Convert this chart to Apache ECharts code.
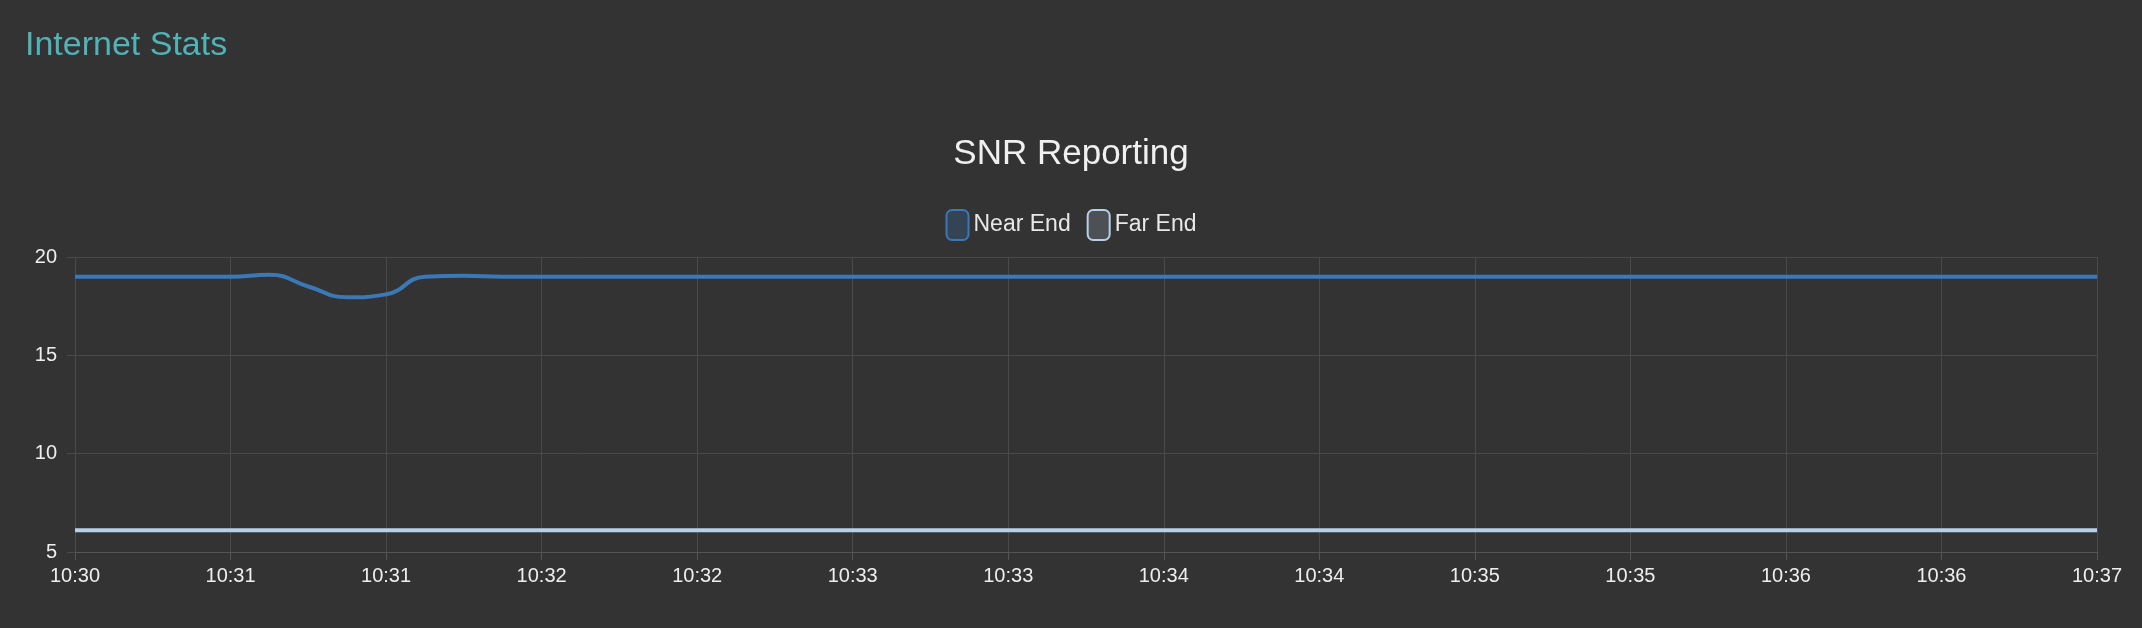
<!DOCTYPE html>
<html><head><meta charset="utf-8">
<script src="https://cdn.jsdelivr.net/npm/echarts@6/dist/echarts.min.js"></script>
<style>html,body{margin:0;background:#333;}#c{width:2142px;height:628px;}</style>
</head><body><div id="c"></div>
<script>
const tickLabels = ['10:30','10:31','10:31','10:32','10:32','10:33','10:33','10:34','10:34','10:35','10:35','10:36','10:36','10:37'];
const times = [];
for (let s = 0; s <= 13*30; s += 7.5) { times.push(s); }
const nearEnd = [19,19,19,19, 19,19.1,18.5,17.95, 18.1,19.0,19.05,19, 19,19,19,19,19,19,19,19,19,19,19,19,19,19,19,19,19,19,19,19,19,19,19,19,19,19,19,19,19,19,19,19,19,19,19,19,19,19,19,19,19];
const farEnd = times.map(() => 6.1);
const F = 'Liberation Sans';
const chart = echarts.init(document.getElementById('c'));
chart.setOption({
  backgroundColor:'#333',
  animation:false,
  title:[{text:'Internet Stats',left:20,top:24,textStyle:{color:'#4fb3b8',fontSize:34,fontWeight:'normal',fontFamily:F}},
         {text:'SNR Reporting',left:'center',top:132,textStyle:{color:'#f0f0f0',fontSize:35,fontWeight:'normal',fontFamily:F}}],
  legend:{top:204,left:'center',itemWidth:22,itemHeight:30,itemGap:16,textStyle:{color:'#e8e8e8',fontSize:23,fontFamily:F},
    data:[{name:'Near End',icon:'roundRect'},{name:'Far End',icon:'roundRect'}]},
  grid:{left:75,right:45,top:257,bottom:76},
  xAxis:{type:'category',boundaryGap:false,data:times,
    axisLine:{lineStyle:{color:'#555'}},axisTick:{show:true,interval:3,length:8,lineStyle:{color:'#555'}},
    splitLine:{show:true,interval:3,lineStyle:{color:'#4a4a4a'}},
    axisLabel:{interval:3,color:'#eee',fontSize:20,margin:14,fontFamily:F,formatter:(v,i)=>tickLabels[i/4]}},
  yAxis:{type:'value',min:5,max:20,interval:5,axisLine:{show:false},axisTick:{show:true,length:8,lineStyle:{color:'#4a4a4a'}},
    splitLine:{lineStyle:{color:'#4a4a4a'}},axisLabel:{color:'#eee',fontSize:20,margin:18,fontFamily:F}},
  series:[
    {name:'Near End',type:'line',data:nearEnd,smooth:true,showSymbol:false,lineStyle:{color:'#3a78b8',width:4},
     itemStyle:{color:'rgba(58,120,184,0.25)',borderColor:'#3a78b8',borderWidth:3}},
    {name:'Far End',type:'line',data:farEnd,smooth:true,showSymbol:false,lineStyle:{color:'#b8cfe8',width:4},
     itemStyle:{color:'rgba(184,207,232,0.2)',borderColor:'#b8cfe8',borderWidth:3}}
  ]
});
</script></body></html>
